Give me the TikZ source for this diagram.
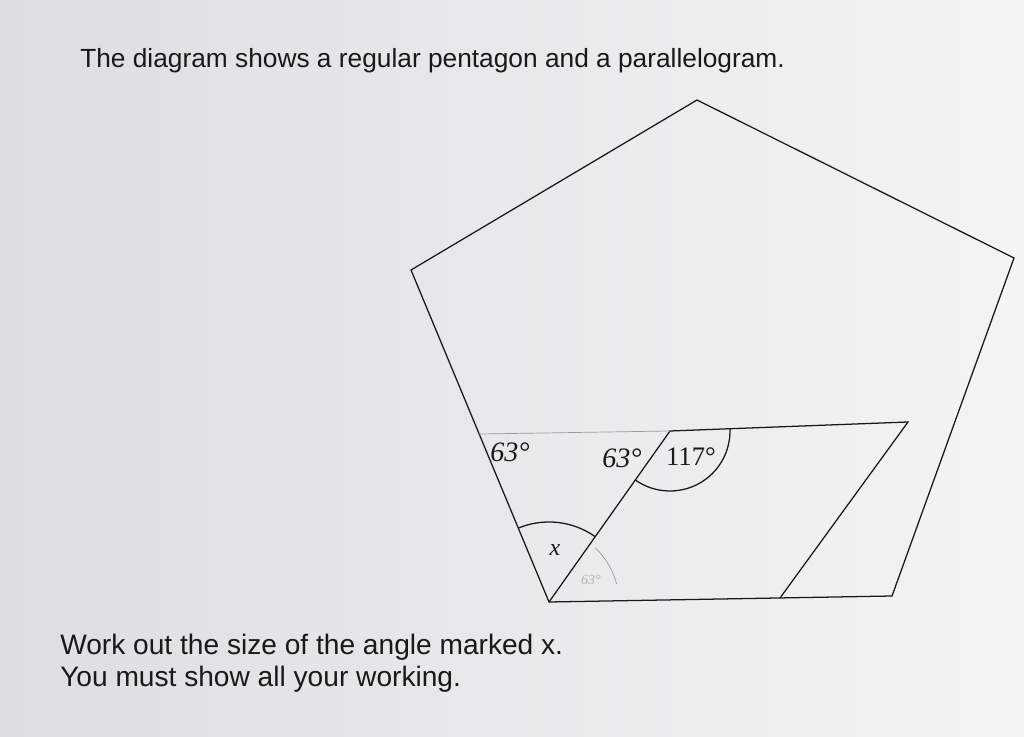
\documentclass[tikz,border=0pt]{standalone}
\usepackage{fontspec}
\setmainfont{Liberation Sans}
\newfontfamily\printfont{Liberation Serif}
\usetikzlibrary{angles,quotes,calc}
\definecolor{paperDark}{RGB}{222,222,226}
\definecolor{paperLight}{RGB}{244,244,244}
\definecolor{inkBlack}{RGB}{25,25,25}

\begin{document}
\begin{tikzpicture}[x=0.025cm, y=0.025cm, >=stealth]
  \tikzset{
    penEdge/.style={line width=0.9pt, inkBlack},
    pencilMark/.style={line width=0.5pt, black!40},
    questionText/.style={anchor=base west, inner sep=0pt, text=inkBlack, font=\fontsize{18.7}{22}\selectfont},
    printText/.style={text=inkBlack, font=\printfont\fontsize{19}{22}\selectfont},
    handText/.style={text=inkBlack, font=\printfont\itshape\fontsize{20}{22}\selectfont}
  }

  % paper
  \shade[left color=paperDark, right color=paperLight] (0,0) rectangle (1024,736);
  \useasboundingbox (0,0) rectangle (1024,736);

  % -------- pentagon ----------
  \coordinate (top)   at (697,636);
  \coordinate (right) at (1014,478);
  \coordinate (lowR)  at (892,140);
  \coordinate (lowL)  at (549,134);
  \coordinate (left)  at (411,466);
  \draw[penEdge] (top) -- (right) -- (lowR) -- (lowL) -- (left) -- cycle;

  % -------- parallelogram ----------
  \coordinate (pA) at (670,305);
  \coordinate (pB) at (908,314);
  \coordinate (pC) at (780,138);
  \draw[penEdge] (lowL) -- (pA) -- (pB) -- (pC);

  % angle arcs
  \pic[draw, penEdge, angle radius=2cm] {angle = pA--lowL--left};
  \pic[draw, penEdge, angle radius=1.5cm] {angle = lowL--pA--pB};

  % pencil working
  \coordinate (pencilEnd) at ($(left)!0.494!(lowL)$);
  \draw[pencilMark] (pencilEnd) -- (pA);
  \draw[pencilMark] ($(lowL)+(15:70)$) arc[start angle=15, end angle=46, radius=78];

  % -------- labels ----------
  \node (angX)    [printText, font=\printfont\itshape\fontsize{17}{20}\selectfont] at (555,186) {x};
  \node (ang117)  [printText] at (691,279) {117°};
  \node (hand63a) [handText] at (510,284) {63°};
  \node (hand63b) [handText] at (622,278) {63°};
  \node (hand63c) [handText, text=black!30, font=\printfont\itshape\fontsize{10}{12}\selectfont] at (591,156) {63°};

  % -------- question ----------
  \node (title) [questionText] at (80,668) {The diagram shows a regular pentagon and a parallelogram.};
  \node (task)  [questionText, font=\fontsize{20}{24}\selectfont] at (60,82) {Work out the size of the angle marked x.};
  \node (hint)  [questionText, font=\fontsize{20}{24}\selectfont] at (60,50) {You must show all your working.};
\end{tikzpicture}
\end{document}
